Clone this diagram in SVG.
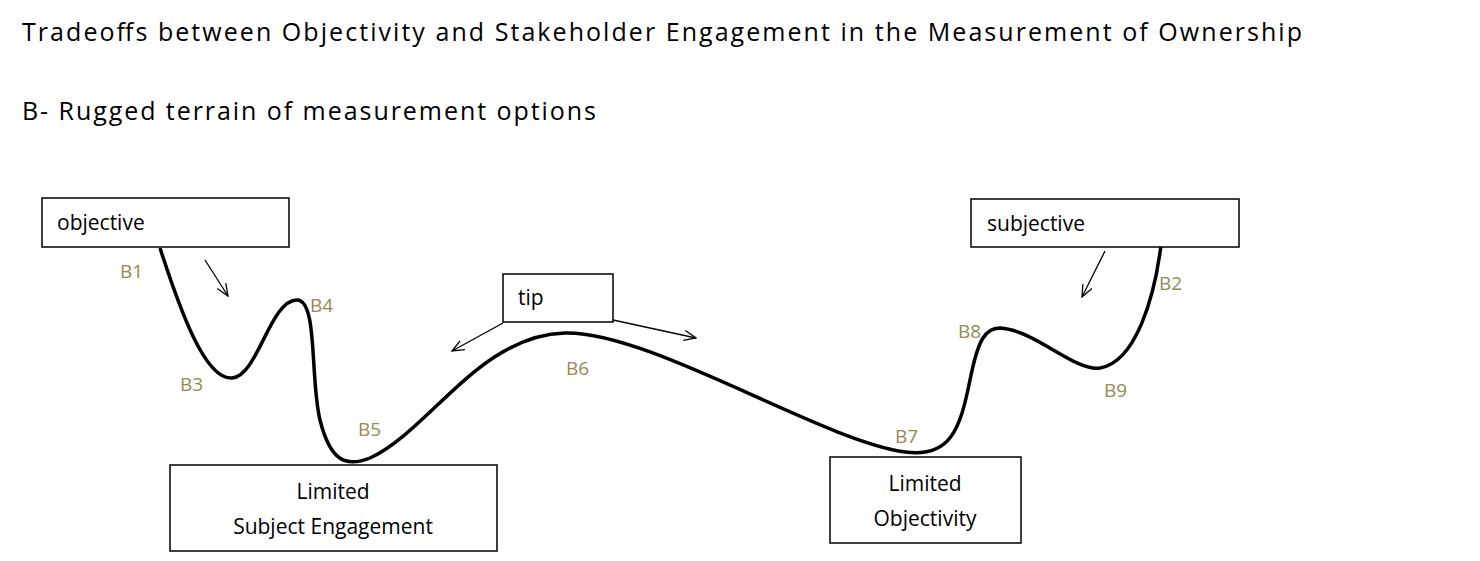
<svg xmlns="http://www.w3.org/2000/svg" width="1480" height="561" viewBox="0 0 1480 561">
<style>
text{font-family:"Open Sans","Liberation Sans",sans-serif;fill:#000}
.t{font-size:25px}
.n{font-size:21px}
.b{font-size:19px;fill:#948A54}
rect{fill:#fff;stroke:#000;stroke-width:1.5}
.a{stroke:#000;stroke-width:1.3;fill:none;marker-end:url(#m)}
</style>
<defs><marker id="m" markerWidth="14" markerHeight="12" refX="13" refY="6" orient="auto" markerUnits="userSpaceOnUse"><path d="M1,1 L13,6 L1,11" fill="none" stroke="#000" stroke-width="1.3"/></marker></defs>
<rect x="0" y="0" width="1480" height="561" style="stroke:none"/>
<text class="t" x="22" y="41" textLength="1280">Tradeoffs between Objectivity and Stakeholder Engagement in the Measurement of Ownership</text>
<text class="t" x="22" y="120" textLength="574">B- Rugged terrain of measurement options</text>
<g id="connectors">
<path d="M160,248 C180,310 205,380 232,378 C258,376 270,300 297,300 C318,300 310,380 320,420 C330,460 345,468 370,458 C430,430 480,335 565,333 C650,331 820,440 905,452 C950,458 960,430 970,380 C978,340 985,328 1000,328 C1035,330 1075,372 1100,368 C1135,362 1155,300 1162,237" fill="none" stroke="#000" stroke-width="3.5"/>
<path class="a" d="M205,260 L228,296"/>
<path class="a" d="M1105,251 L1082,297"/>
<path class="a" d="M503,323 L452,351"/>
<path class="a" d="M613,320 L696,338"/>
</g>
<g id="objective"><rect x="42" y="198" width="247" height="49"/><text class="n" x="57" y="230">objective</text></g>
<g id="subjective"><rect x="971" y="199" width="268" height="48"/><text class="n" x="987" y="231">subjective</text></g>
<g id="tip"><rect x="503" y="274" width="110" height="48"/><text class="n" x="518" y="305">tip</text></g>
<g id="lse"><rect x="170" y="465" width="327" height="86"/><text class="n" x="333" y="499" text-anchor="middle">Limited</text><text class="n" x="333" y="534" text-anchor="middle">Subject Engagement</text></g>
<g id="lo"><rect x="830" y="457" width="191" height="86"/><text class="n" x="925" y="491" text-anchor="middle">Limited</text><text class="n" x="925" y="526" text-anchor="middle">Objectivity</text></g>
<g id="labels">
<text class="b" x="120" y="278">B1</text>
<text class="b" x="1159" y="290">B2</text>
<text class="b" x="180" y="391">B3</text>
<text class="b" x="310" y="312">B4</text>
<text class="b" x="358" y="436">B5</text>
<text class="b" x="566" y="375">B6</text>
<text class="b" x="895" y="443">B7</text>
<text class="b" x="958" y="338">B8</text>
<text class="b" x="1104" y="397">B9</text>
</g>
</svg>
